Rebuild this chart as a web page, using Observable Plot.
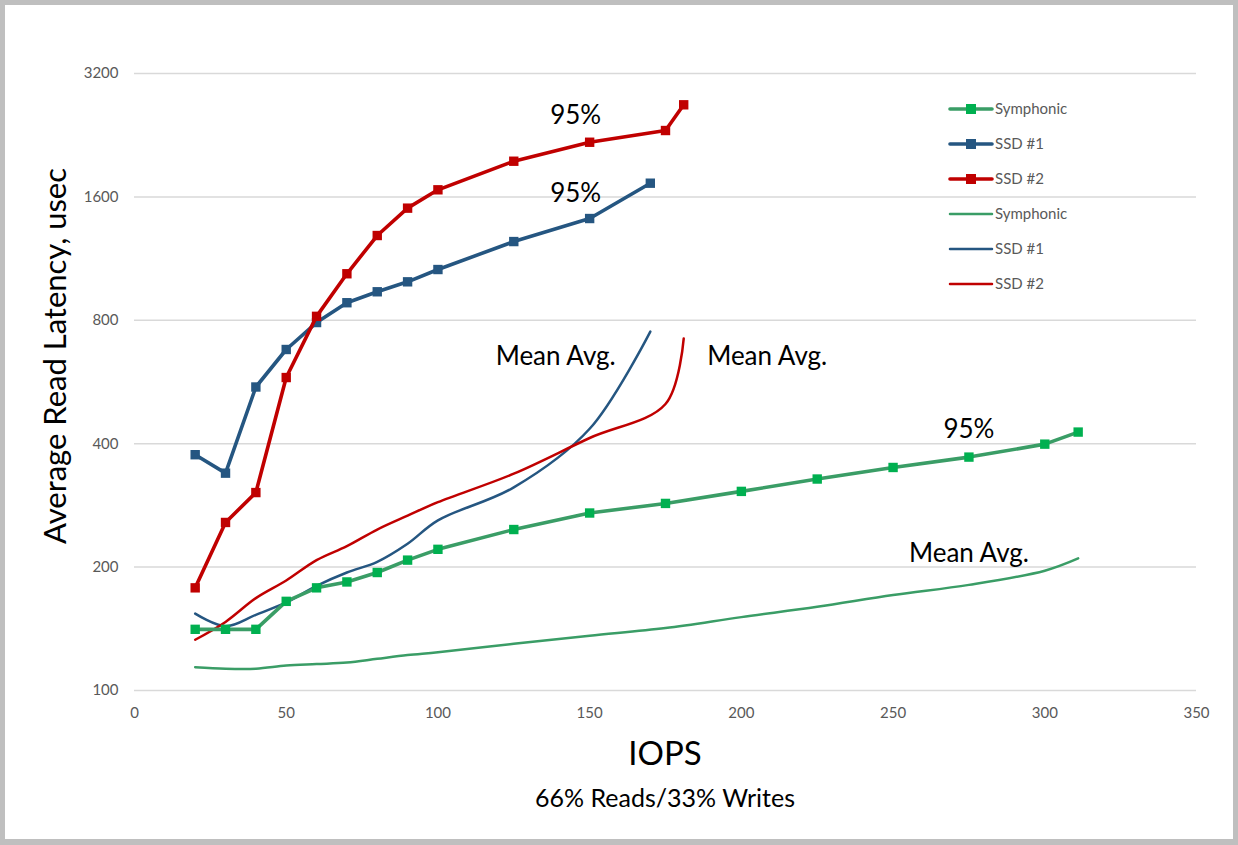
<!DOCTYPE html>
<html>
<head>
<meta charset="utf-8">
<script src="https://cdn.jsdelivr.net/npm/d3@7"></script>
<script src="https://cdn.jsdelivr.net/npm/@observablehq/plot@0.6"></script>
<style>
  html, body { margin: 0; padding: 0; background: #fff; }
  #page { position: relative; width: 1238px; height: 845px; overflow: hidden; background: #fff; font-family: Lato, "Open Sans", sans-serif; }
  #frame { position: absolute; left: 0; top: 0; width: 1238px; height: 845px; box-sizing: border-box; border: 5px solid #bfbfbf; border-bottom-width: 6px; pointer-events: none; }
  #chart { position: absolute; left: 0; top: 0; }
  .txt { position: absolute; color: #000; white-space: nowrap; }
  #ylabel { left: 54px; top: 356px; font-size: 31px; transform: translate(-50%, -50%) rotate(-90deg); }
  #xlabel { left: 665px; top: 752px; font-size: 33px; transform: translate(-50%, -50%); }
  #xsub { left: 665px; top: 797px; font-size: 25px; transform: translate(-50%, -50%); }
  #legend { position: absolute; left: 0; top: 0; }
</style>
</head>
<body>
<div id="page">
  <div id="chart"></div>
  <svg id="legend" width="1238" height="845"></svg>
  <div class="txt" id="ylabel">Average Read Latency, usec</div>
  <div class="txt" id="xlabel">IOPS</div>
  <div class="txt" id="xsub">66% Reads/33% Writes</div>
  <div id="frame"></div>
</div>
<script>
// ---- tick labels ----
const xTicks = [0, 50, 100, 150, 200, 250, 300, 350];
const yTicks = [100, 200, 400, 800, 1600, 3200];

// ---- 95th percentile series (with markers) ----
const iops95Sym  = [20, 30, 40, 50, 60, 70, 80, 90, 100, 125, 150, 175, 200, 225, 250, 275, 300, 311];
const lat95Sym   = [141, 141, 141, 165, 178, 184, 194, 208, 221, 247, 271, 286, 306, 328, 350, 371, 399, 427];
const iops95Ssd1 = [20, 30, 40, 50, 60, 70, 80, 90, 100, 125, 150, 170];
const lat95Ssd1  = [376, 339, 550, 679, 790, 883, 939, 993, 1064, 1245, 1417, 1728];
const iops95Ssd2 = [20, 30, 40, 50, 60, 70, 80, 90, 100, 125, 150, 175, 181];
const lat95Ssd2  = [178, 257, 304, 580, 818, 1039, 1288, 1502, 1665, 1955, 2175, 2323, 2684];

// ---- mean average series (smooth lines) ----
const iopsMeanSym  = [20, 30, 40, 50, 60, 70, 80, 90, 100, 125, 150, 175, 200, 225, 250, 275, 300, 311];
const latMeanSym   = [114, 113, 113, 115, 116, 117, 119.5, 122, 124, 130, 136, 142, 151, 160, 171, 181, 196, 210];
const iopsMeanSsd1 = [20, 30, 40, 50, 60, 70, 80, 90, 100, 125, 150, 170];
const latMeanSsd1  = [154, 143.5, 153, 164, 180, 194, 206, 228, 260, 313, 435, 751];
const iopsMeanSsd2 = [20, 30, 40, 50, 60, 70, 80, 90, 100, 125, 150, 175, 181];
const latMeanSsd2  = [133, 147, 168, 185.5, 208, 225, 247, 267, 288, 338, 413, 500, 722];

// ---- series names / colors ----
const seriesNames = ["Symphonic", "SSD #1", "SSD #2"];
const lineColors = ["#3a9d66", "#255681", "#c00000"];
const markerColors = ["#00b050", "#255681", "#c00000"];

// ---- annotations ----
const annoText = ["95%", "95%", "95%", "Mean Avg.", "Mean Avg.", "Mean Avg."];
const annoX    = [145.4, 145.4, 275, 138.8, 208.5, 275];
const annoY    = [2527, 1632, 433, 653, 653, 216];

const zip = (xs, ys) => xs.map((x, i) => ({x, y: ys[i]}));
const s95 = [zip(iops95Sym, lat95Sym), zip(iops95Ssd1, lat95Ssd1), zip(iops95Ssd2, lat95Ssd2)];
const sMean = [zip(iopsMeanSym, latMeanSym), zip(iopsMeanSsd1, latMeanSsd1), zip(iopsMeanSsd2, latMeanSsd2)];
const annos = annoText.map((t, i) => ({t, x: annoX[i], y: annoY[i]}));

const font = "Lato, 'Open Sans', sans-serif";
const marks = [
  Plot.gridY(yTicks, {stroke: "#d9d9d9", strokeOpacity: 1, strokeWidth: 1.5}),
  Plot.axisY(yTicks, {tickSize: 0, tickPadding: 16, fontSize: 15, fill: "#595959", label: null, tickFormat: d => String(d)}),
  Plot.axisX(xTicks, {tickSize: 0, tickPadding: 17, fontSize: 15, fill: "#595959", label: null}),
];
sMean.forEach((d, i) => {
  marks.push(Plot.line(d, {x: "x", y: "y", stroke: lineColors[i], strokeWidth: 2.5, curve: "catmull-rom"}));
});
s95.forEach((d, i) => {
  marks.push(Plot.line(d, {x: "x", y: "y", stroke: lineColors[i], strokeWidth: 3.6}));
  marks.push(Plot.dot(d, {x: "x", y: "y", symbol: "square", r: 5.3, fill: markerColors[i], stroke: "none"}));
});
marks.push(Plot.text(annos, {x: "x", y: "y", text: "t", fontSize: 26, fill: "#000", fontFamily: font}));

const chart = Plot.plot({
  width: 1238,
  height: 740,
  marginTop: 73,
  marginBottom: 50,
  marginLeft: 134,
  marginRight: 42,
  style: {fontFamily: font, background: "transparent"},
  x: {domain: [0, 350], label: null},
  y: {type: "log", base: 2, domain: [100, 3200], label: null},
  marks
});
document.getElementById("chart").appendChild(chart);

// ---- legend ----
const leg = d3.select("#legend");
const legY = [109, 144, 179, 214, 249, 284];
const legItems = [
  ...seriesNames.map((n, i) => ({name: n, color: lineColors[i], marker: markerColors[i]})),
  ...seriesNames.map((n, i) => ({name: n, color: lineColors[i], marker: null}))
];
legItems.forEach((it, i) => {
  const g = leg.append("g").attr("transform", `translate(0,${legY[i]})`);
  g.append("line").attr("x1", 950).attr("x2", 992).attr("y1", 0).attr("y2", 0)
    .attr("stroke", it.color).attr("stroke-width", it.marker ? 3.6 : 2.5).attr("stroke-linecap", "round");
  if (it.marker) g.append("rect").attr("x", 966).attr("y", -5).attr("width", 10).attr("height", 10).attr("fill", it.marker);
  g.append("text").attr("x", 995).attr("y", 0).attr("dy", "0.35em")
    .attr("font-family", font).attr("font-size", 15).attr("fill", "#595959").text(it.name);
});
</script>
</body>
</html>
